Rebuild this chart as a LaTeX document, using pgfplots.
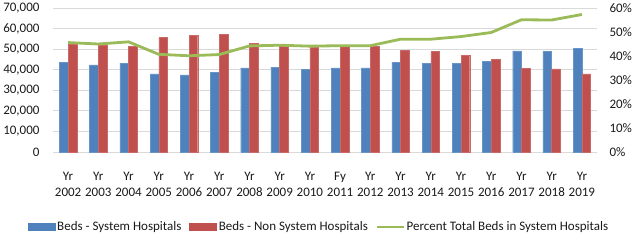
\documentclass[border=0pt]{standalone}
\usepackage{pgfplots}
\pgfplotsset{compat=1.18}
\usepackage{fontspec}
\setmainfont{Carlito}
\definecolor{cblue}{HTML}{4F81BD}
\definecolor{cred}{HTML}{C0504D}
\definecolor{cgreen}{HTML}{9BBB59}
\definecolor{cgrid}{HTML}{D9D9D9}
\definecolor{ctext}{HTML}{1A1A1A}
\pgfplotstableread{
x blue red pct
0 43500 52400 45.6
1 42400 51800 45.0
2 43200 51300 45.9
3 38000 55700 40.7
4 37500 56800 40.1
5 38800 57300 40.6
6 40900 52800 44.2
7 41200 51300 44.5
8 40100 50800 44.1
9 40900 51300 44.3
10 40900 51300 44.3
11 43700 49500 47.0
12 43000 48900 47.0
13 43000 47100 48.1
14 44200 45100 49.8
15 49200 40600 55.1
16 48900 40400 55.0
17 50500 38000 57.3
}\datatable
\begin{document}
\begin{tikzpicture}[font=\fontsize{13bp}{15bp}\selectfont, text=ctext]
\begin{axis}[name=main, scale only axis, width=544bp, height=144bp,
  xmin=-0.5, xmax=17.5, ymin=0, ymax=70000,
  ybar=0pt, bar width=8.7bp,
  ytick={0,10000,...,70000},
  scaled y ticks=false,
  /pgf/number format/fixed, /pgf/number format/1000 sep={,},
  /pgf/number format/assume math mode=true,
  yticklabel style={xshift=-10bp},
  ymajorgrids, grid style={cgrid, line width=0.8bp},
  axis line style={draw=none}, major tick length=0pt,
  xtick={0,...,17},
  xticklabels={{Yr\\2002},{Yr\\2003},{Yr\\2004},{Yr\\2005},{Yr\\2006},{Yr\\2007},{Yr\\2008},{Yr\\2009},{Yr\\2010},{Fy\\2011},{Yr\\2012},{Yr\\2013},{Yr\\2014},{Yr\\2015},{Yr\\2016},{Yr\\2017},{Yr\\2018},{Yr\\2019}},
  x tick label style={align=center, font=\fontsize{13bp}{16bp}\selectfont, yshift=-17bp},
  legend columns=3,
  legend style={draw=none, fill=none, at={(0.489,-0.522)}, anchor=center,
    /tikz/every even column/.append style={column sep=6bp}},
  legend cell align=left,
]
\addplot[fill=cblue, draw=cblue!85!white, line width=0.4bp,
  legend image code/.code={\fill[cblue] (0bp,-3bp) rectangle (27bp,3.5bp);}]
  table[x=x, y=blue]{\datatable};
\addlegendentry{Beds - System Hospitals}
\addplot[fill=cred, draw=cred!85!white, line width=0.4bp,
  legend image code/.code={\fill[cred] (0bp,-3bp) rectangle (27bp,3.5bp);}]
  table[x=x, y=red]{\datatable};
\addlegendentry{Beds - Non System Hospitals}
\addlegendimage{legend image code/.code={\draw[cgreen, line width=1.6bp] (0bp,0bp) -- (27bp,0bp);}}
\addlegendentry{Percent Total Beds in System Hospitals}
\end{axis}
\begin{axis}[scale only axis, width=544bp, height=144bp,
  xmin=-0.5, xmax=17.5, ymin=0, ymax=60,
  axis y line*=right, axis x line=none,
  axis line style={draw=none}, major tick length=0pt,
  ytick={0,10,...,60},
  /pgf/number format/assume math mode=true,
  yticklabel={\pgfmathprintnumber{\tick}\%},
  yticklabel style={xshift=9bp},
]
\addplot[cgreen, line width=2.8bp, mark=none, line join=round] table[x=x, y=pct]{\datatable};
\end{axis}
\pgfresetboundingbox
\path[use as bounding box] ([xshift=-53bp,yshift=-88bp]main.south west) rectangle ([xshift=40bp,yshift=8bp]main.north east);
\end{tikzpicture}
\end{document}
